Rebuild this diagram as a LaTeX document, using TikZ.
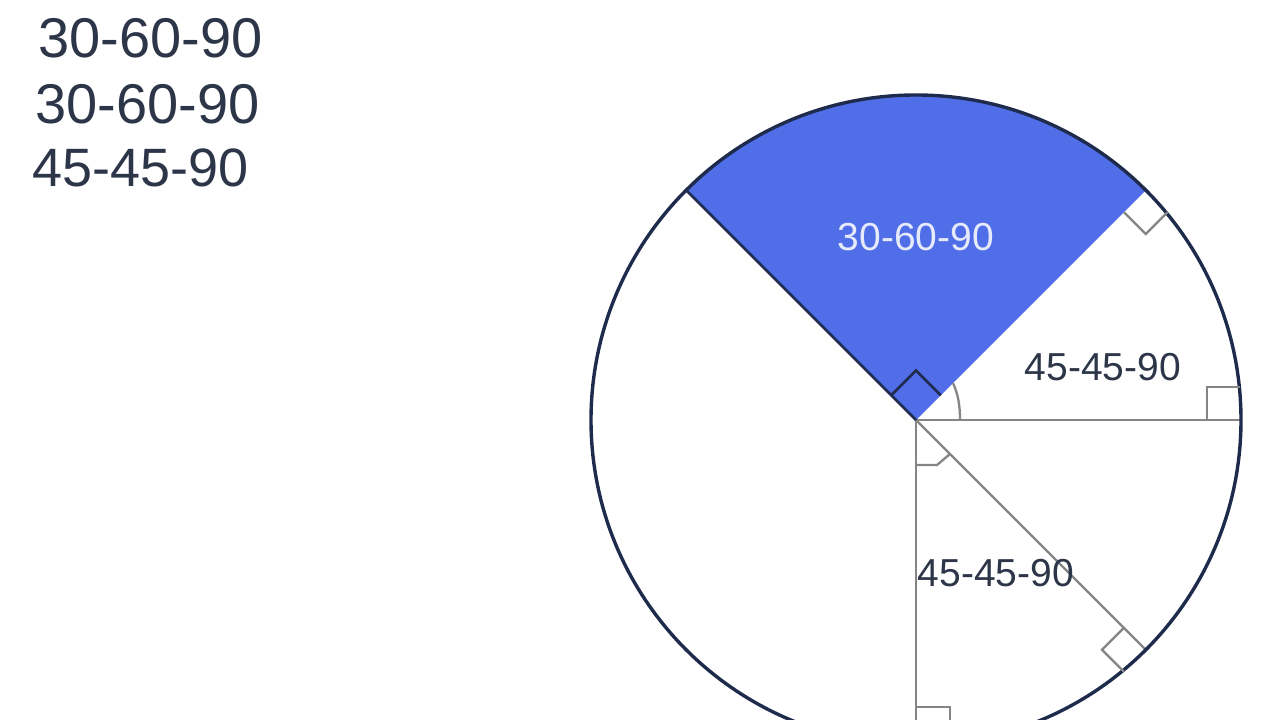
\documentclass[tikz,border=0pt]{standalone}
\usepackage{fontspec}
\setmainfont{Liberation Sans}
\definecolor{navy}{HTML}{1F2B4D}
\definecolor{txt}{HTML}{2D3648}
\definecolor{sect}{HTML}{4F6EE8}
\definecolor{gry}{HTML}{858585}
\definecolor{lbl}{HTML}{E6EAFA}
\begin{document}
\begin{tikzpicture}[x=1pt,y=1pt,
  gline/.style={draw=gry,line width=2.3pt},
  nline/.style={draw=navy,line width=2.8pt},
  rmark/.style={draw=gry,line width=2.3pt,line join=miter},
  biglbl/.style={anchor=west,inner sep=0pt,text=txt},
  inlbl/.style={inner sep=0pt,font=\fontsize{39}{46}\selectfont}]
\useasboundingbox (0,0) rectangle (1280,720);
\clip (0,0) rectangle (1280,720);
\fill[white] (0,0) rectangle (1280,720);
\coordinate (C) at (916,300);
\coordinate (P45) at ([shift={(45:325)}]C);
\coordinate (P135) at ([shift={(135:325)}]C);
\coordinate (P0) at ([shift={(0:325)}]C);
\coordinate (Pm45) at ([shift={(-45:325)}]C);
\coordinate (Pb) at ([shift={(270:325)}]C);
% blue sector
\fill[sect] (C) -- (P45) arc[start angle=45,end angle=135,radius=325] -- cycle;
% gray radii
\draw[gline] (C) -- (P0);
\draw[gline] (C) -- (Pm45);
\draw[gline] (C) -- (Pb);
% navy radius
\draw[nline] (C) -- (P135);
% circle
\draw[navy,line width=3.4pt] (C) circle[radius=325];
% right angle at centre
\draw[nline,line join=miter] ([shift={(45:35)}]C) -- ([shift={(90:49.5)}]C) -- ([shift={(135:35)}]C);
% square at P45
\draw[rmark] ([shift={(225:31)}]P45) -- ([shift={(270:43.8)}]P45) -- ([shift={(315:31)}]P45);
% square at P0
\draw[rmark] ([shift={(-34,0)}]P0) -- ([shift={(-34,33)}]P0) -- ([shift={(-1,33)}]P0);
% square at Pm45
\draw[rmark] ([shift={(135:31)}]Pm45) -- ([shift={(180:43.8)}]Pm45) -- ([shift={(225:31)}]Pm45);
% square at bottom
\draw[rmark] ([shift={(0,38)}]Pb) -- ([shift={(34,38)}]Pb) -- ([shift={(34,0)}]Pb);
% angle marks near centre
\draw[rmark] ([shift={(44,0)}]C) .. controls ([shift={(44,15)}]C) and ([shift={(42,26)}]C) .. ([shift={(37,37)}]C);
\draw[rmark] ([shift={(0,-45)}]C) -- ([shift={(21,-45)}]C) -- ([shift={(34,-34)}]C);
% labels
\node[inlbl,text=lbl] (s1) at (916,483) {30-60-90};
\node[inlbl,text=txt] (s2) at (1103,353) {45-45-90};
\node[inlbl,text=txt] (s3) at (996,147) {45-45-90};
\node[biglbl,font=\fontsize{56}{64}\selectfont] (t1) at (38,682) {30-60-90};
\node[biglbl,font=\fontsize{56}{64}\selectfont] (t2) at (35,616) {30-60-90};
\node[biglbl,font=\fontsize{54}{62}\selectfont] (t3) at (32,552) {45-45-90};
\end{tikzpicture}
\end{document}
